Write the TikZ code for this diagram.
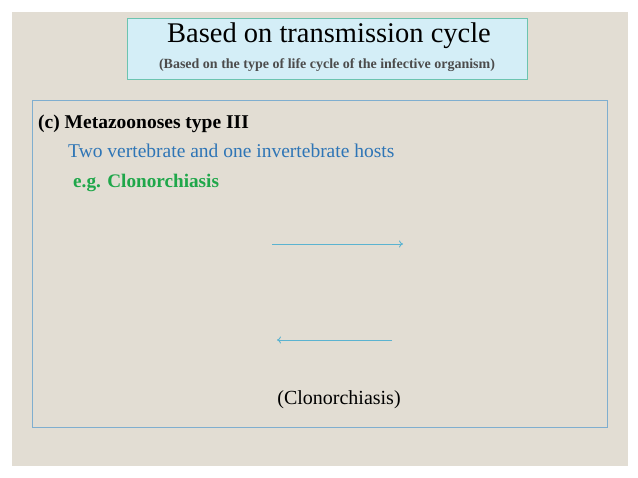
\documentclass[tikz,border=0pt]{standalone}
\usepackage{fontspec}
\setmainfont{Liberation Serif}
\usetikzlibrary{arrows.meta}
\begin{document}
\begin{tikzpicture}[x=1pt,y=-1pt,
  lbl/.style={inner sep=0pt,anchor=west},
  arr/.style={draw=arrowc,line width=0.9pt,-{To[length=4pt,width=7pt]}}]
\definecolor{bg}{HTML}{E2DDD3}
\definecolor{boxb}{HTML}{7FAECF}
\definecolor{tealb}{HTML}{6CC4B0}
\definecolor{cyanf}{HTML}{D4EEF7}
\definecolor{bluet}{HTML}{2E75B6}
\definecolor{greent}{HTML}{1FA74A}
\definecolor{arrowc}{HTML}{5BB3D0}
\useasboundingbox (0,0) rectangle (638,478);
\fill[white] (0,0) rectangle (638,478);
\fill[bg] (12,12) rectangle (628,466);
\draw[draw=tealb,fill=cyanf,line width=0.6pt] (127,18) rectangle (527,79);
\node[inner sep=0pt] (t1) at (329,36) {\fontsize{28.5}{32}\selectfont Based on transmission cycle};
\node[inner sep=0pt,text=black!70] (t2) at (327,65) {\fontsize{14}{16}\selectfont\bfseries (Based on the type of life cycle of the infective organism)};
\draw[draw=boxb,line width=0.8pt] (32,100) rectangle (607,427);
\node[lbl] (h) at (38,124) {\fontsize{19.5}{22}\selectfont\bfseries (c) Metazoonoses type III};
\node[lbl,text=bluet] (b) at (68,151) {\fontsize{19.5}{22}\selectfont Two vertebrate and one invertebrate hosts};
\node[lbl,text=greent] (g) at (73,183) {\fontsize{19.2}{22}\selectfont\bfseries e.g. Clonorchiasis};
\coordinate (r1) at (272,244); \coordinate (r2) at (403,244);
\coordinate (l1) at (392,340); \coordinate (l2) at (277,340);
\draw[arr] (r1) -- (r2);
\draw[arr] (l1) -- (l2);
\node[inner sep=0pt] (c) at (339,400) {\fontsize{20}{23}\selectfont (Clonorchiasis)};
\end{tikzpicture}
\end{document}
